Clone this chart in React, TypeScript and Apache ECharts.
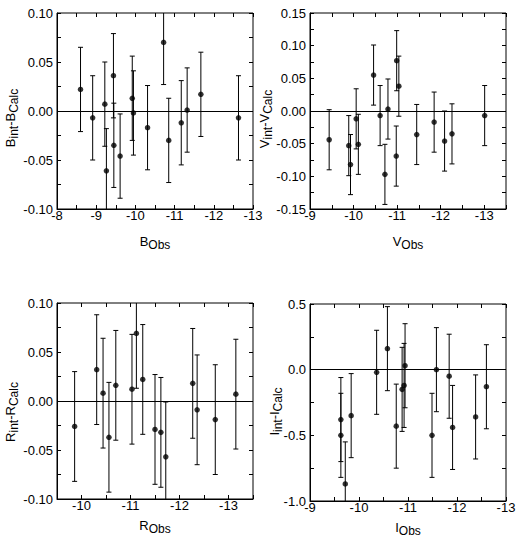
import React, { useEffect, useRef } from "react";
import * as echarts from "echarts";

// ---------- data ----------
const bObs = [-8.6, -8.91, -9.22, -9.26, -9.44, -9.45, -9.61, -9.92, -9.95, -10.31, -10.72, -10.85, -11.17, -11.32, -11.67, -12.63];
const bRes = [0.022, -0.007, 0.007, -0.061, 0.036, -0.035, -0.046, 0.013, -0.002, -0.017, 0.07, -0.03, -0.012, 0.001, 0.017, -0.007];
const bErr = [0.043, 0.043, 0.043, 0.043, 0.043, 0.043, 0.043, 0.043, 0.043, 0.043, 0.043, 0.043, 0.043, 0.043, 0.043, 0.043];

const vObs = [-9.44, -9.89, -9.93, -10.06, -10.11, -10.46, -10.61, -10.72, -10.79, -10.98, -10.99, -11.04, -11.45, -11.85, -12.09, -12.26, -13.01];
const vRes = [-0.044, -0.053, -0.082, -0.012, -0.051, 0.055, -0.007, -0.097, 0.003, -0.069, 0.077, 0.038, -0.036, -0.017, -0.046, -0.035, -0.007];
const vErr = [0.046, 0.046, 0.046, 0.046, 0.046, 0.046, 0.046, 0.046, 0.046, 0.046, 0.046, 0.046, 0.046, 0.046, 0.046, 0.046, 0.046];

const rObs = [-9.86, -10.31, -10.44, -10.56, -10.7, -11.03, -11.12, -11.25, -11.5, -11.62, -11.72, -12.27, -12.36, -12.73, -13.15];
const rRes = [-0.026, 0.032, 0.008, -0.037, 0.016, 0.012, 0.069, 0.022, -0.029, -0.032, -0.057, 0.018, -0.009, -0.019, 0.007];
const rErr = [0.056, 0.056, 0.056, 0.056, 0.056, 0.056, 0.056, 0.056, 0.056, 0.056, 0.056, 0.056, 0.056, 0.056, 0.056];

const iObs = [-9.63, -9.63, -9.72, -9.84, -10.36, -10.58, -10.76, -10.88, -10.92, -10.94, -11.49, -11.58, -11.84, -11.91, -12.38, -12.6];
const iRes = [-0.38, -0.5, -0.87, -0.35, -0.02, 0.16, -0.43, -0.15, -0.12, 0.03, -0.5, 0.0, -0.05, -0.44, -0.36, -0.13];
const iErr = [0.32, 0.32, 0.32, 0.32, 0.32, 0.32, 0.32, 0.32, 0.32, 0.32, 0.32, 0.32, 0.32, 0.32, 0.32, 0.32];

// tick labels
const bXTicks = [-8, -9, -10, -11, -12, -13];
const vXTicks = [-9, -10, -11, -12, -13];
const rXTicks = [-10, -11, -12, -13];
const iXTicks = [-9, -10, -11, -12, -13];
const bYTicks = [-0.1, -0.05, 0, 0.05, 0.1];
const vYTicks = [-0.15, -0.1, -0.05, 0, 0.05, 0.1, 0.15];
const rYTicks = [-0.1, -0.05, 0, 0.05, 0.1];
const iYTicks = [-1.0, -0.5, 0, 0.5];

const FONT = '"Liberation Sans", Arial, Helvetica, sans-serif';

const fmt = (ticks: number[], digits: number) => (v: number) => {
  const t = ticks.find((k) => Math.abs(k - v) < 1e-6);
  if (t === undefined) return "";
  return (Math.abs(t) < 1e-9 ? 0 : t).toFixed(digits);
};

const rich = {
  m: { fontSize: 13, fontFamily: FONT, color: "#000", lineHeight: 17, verticalAlign: "top" },
  s: { fontSize: 12, fontFamily: FONT, color: "#000", lineHeight: 17, padding: [4, 0, 0, 0], verticalAlign: "top" },
};

type Panel = {
  obs: number[]; res: number[]; err: number[];
  xMin: number; xMax: number; xTicks: number[];
  yMin: number; yMax: number; yStep: number; yTicks: number[]; yDigits: number;
  letter: string;
  left: number; top: number; height: number;
  xNameGap: number; yNameGap: number; yShift: number;
};

const panels: Panel[] = [
  { obs: bObs, res: bRes, err: bErr, xMin: -13, xMax: -8, xTicks: bXTicks, yMin: -0.1, yMax: 0.1, yStep: 0.025, yTicks: bYTicks, yDigits: 2, letter: "B", left: 57, top: 13, height: 196, xNameGap: 26, yNameGap: 36, yShift: 7 },
  { obs: vObs, res: vRes, err: vErr, xMin: -13.5, xMax: -9, xTicks: vXTicks, yMin: -0.15, yMax: 0.15, yStep: 0.025, yTicks: vYTicks, yDigits: 2, letter: "V", left: 310, top: 13, height: 196, xNameGap: 26, yNameGap: 35, yShift: 8 },
  { obs: rObs, res: rRes, err: rErr, xMin: -13.5, xMax: -9.5, xTicks: rXTicks, yMin: -0.1, yMax: 0.1, yStep: 0.025, yTicks: rYTicks, yDigits: 2, letter: "R", left: 57, top: 303, height: 196, xNameGap: 20, yNameGap: 36, yShift: 11 },
  { obs: iObs, res: iRes, err: iErr, xMin: -13, xMax: -9, xTicks: iXTicks, yMin: -1, yMax: 0.5, yStep: 0.25, yTicks: iYTicks, yDigits: 1, letter: "I", left: 310, top: 304, height: 197, xNameGap: 20, yNameGap: 25, yShift: 9 },
];

function buildOption() {
  const grid: any[] = [];
  const xAxis: any[] = [];
  const yAxis: any[] = [];
  const series: any[] = [];
  const black = { color: "#000", width: 1 };
  const tick = { show: true, inside: true, length: 4, lineStyle: black };

  panels.forEach((p, i) => {
    grid.push({
      left: p.left, top: p.top, width: 196, height: p.height,
      show: true, borderColor: "#000", borderWidth: 1, backgroundColor: "transparent",
      containLabel: false, outerBoundsMode: "none",
    });
    const xBase = {
      type: "value", gridIndex: i, min: p.xMin, max: p.xMax, interval: 0.5, inverse: true,
      splitLine: { show: false }, axisTick: tick,
    };
    xAxis.push({
      ...xBase, position: "bottom",
      axisLine: { show: true, onZero: false, lineStyle: black },
      axisLabel: { show: true, color: "#000", fontFamily: FONT, fontSize: 13, margin: 0, formatter: fmt(p.xTicks, 0), showMinLabel: true, showMaxLabel: true, hideOverlap: false },
      name: `{m|${p.letter}}{s|Obs}`, nameLocation: "middle", nameGap: p.xNameGap, nameMoveOverlap: false,
      nameTextStyle: { rich },
    });
    xAxis.push({
      ...xBase, position: "top",
      axisLine: { show: false, onZero: false },
      axisLabel: { show: false },
    });
    const yBase = {
      type: "value", gridIndex: i, min: p.yMin, max: p.yMax, interval: p.yStep,
      splitLine: { show: false }, axisTick: tick,
    };
    yAxis.push({
      ...yBase, position: "left",
      axisLine: { show: true, onZero: false, lineStyle: black },
      axisLabel: { show: true, color: "#000", fontFamily: FONT, fontSize: 13, margin: 4, formatter: fmt(p.yTicks, p.yDigits), showMinLabel: true, showMaxLabel: true, hideOverlap: false },
      name: `{m|${p.letter}}{s|int}{m|-${p.letter}}{s|Calc}`, nameLocation: "middle", nameRotate: 90, nameGap: p.yNameGap, nameMoveOverlap: false,
      nameTextStyle: { rich, padding: [0, p.yShift * 2, 0, 0] },
    });
    yAxis.push({
      ...yBase, position: "right",
      axisLine: { show: false, onZero: false },
      axisLabel: { show: false },
    });

    const pts = p.obs.map((x, k) => [x, p.res[k], p.err[k]]);
    series.push({
      type: "custom", xAxisIndex: 2 * i, yAxisIndex: 2 * i, clip: true,
      data: pts, encode: { x: 0, y: 1 },
      renderItem: (_params: any, api: any) => {
        const x = api.value(0), y = api.value(1), e = api.value(2);
        const a = api.coord([x, y + e]);
        const b = api.coord([x, y - e]);
        const w = 2.5;
        const st = { stroke: "#000", lineWidth: 1, fill: "none" };
        return {
          type: "group",
          children: [
            { type: "line", shape: { x1: a[0], y1: a[1], x2: b[0], y2: b[1] }, style: st },
            { type: "line", shape: { x1: a[0] - w, y1: a[1], x2: a[0] + w, y2: a[1] }, style: st },
            { type: "line", shape: { x1: b[0] - w, y1: b[1], x2: b[0] + w, y2: b[1] }, style: st },
          ],
        };
      },
      z: 2,
    });
    series.push({
      type: "scatter", xAxisIndex: 2 * i, yAxisIndex: 2 * i,
      data: pts.map((q) => [q[0], q[1]]),
      symbol: "circle", symbolSize: 5.5,
      itemStyle: { color: "#000" },
      z: 3,
      markLine: {
        silent: true, symbol: ["none", "none"], label: { show: false },
        lineStyle: { color: "#000", width: 1, type: "solid" },
        data: [{ yAxis: 0 }],
      },
    });
  });

  return { animation: false, backgroundColor: "#fff", grid, xAxis, yAxis, series };
}

export default function App() {
  const ref = useRef<HTMLDivElement>(null);
  useEffect(() => {
    if (!ref.current) return;
    const chart = echarts.init(ref.current, null, { renderer: "svg" });
    chart.setOption(buildOption() as any);
    return () => chart.dispose();
  }, []);
  return (
    <div
      ref={ref}
      style={{ position: "absolute", left: 0, top: 0, width: 517, height: 544, background: "#fff" }}
    />
  );
}
